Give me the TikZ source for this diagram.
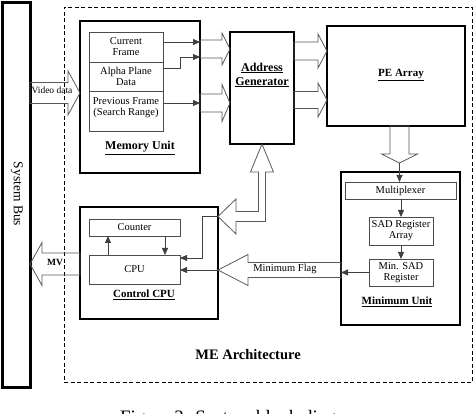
\documentclass[tikz,border=0pt]{standalone}
\usepackage{fontspec}
\setmainfont{Liberation Serif}
\usetikzlibrary{arrows.meta,calc}

% hollow block arrow: from, to, half shaft, half head, head length
\newcommand{\blockarrow}[5]{%
  \draw[hollow] let \p1=(#1), \p2=(#2), \n1={atan2(\y2-\y1,\x2-\x1)}, \n2={veclen(\x2-\x1,\y2-\y1)} in
    [shift={(\p1)},rotate=\n1] (0pt,#3pt) -- (\n2-#5pt,#3pt) -- (\n2-#5pt,#4pt) -- (\n2+0pt,0pt)
    -- (\n2-#5pt,-#4pt) -- (\n2-#5pt,-#3pt) -- (0pt,-#3pt) -- cycle;}

\begin{document}
\begin{tikzpicture}
  [x=1pt,y=-1pt,every node/.style={inner sep=0pt,outer sep=0pt,align=center,font=\fontsize{10.5}{11}\selectfont}]
  \tikzstyle{unit} = [draw,line width=2.8pt]
  \tikzstyle{cell} = [draw=black!70,line width=0.8pt]
  \tikzstyle{title} = [font=\fontsize{12}{14}\selectfont\bfseries]
  \tikzstyle{sig} = [draw=black!75,line width=0.8pt,-{Triangle[length=7pt,width=6pt]}]
  \tikzstyle{hollow} = [draw=black!65,line width=0.8pt,line join=miter]
  \useasboundingbox (0,0) rectangle (474,414);

  % system bus and ME frame
  \node[draw,line width=3pt,minimum width=27.5pt,minimum height=384pt] (bus) at (16.25,195) {};
  \node[rotate=-90,font=\fontsize{13.5}{15}\selectfont] (buslbl) at (17,194) {System Bus};
  \node[draw,line width=0.9pt,dash pattern=on 4pt off 2.5pt,minimum width=408pt,minimum height=375pt] (me) at (268,194.5) {};
  \node[font=\fontsize{14.5}{16}\selectfont\bfseries] (melbl) at (248,355) {ME Architecture};

  % memory unit
  \node[unit,minimum width=120pt,minimum height=152pt] (mem) at (140,97) {};
  \node[cell,minimum width=74pt,minimum height=30pt] (cur) at (126,47) {Current\\Frame};
  \node[cell,minimum width=74pt,minimum height=29pt] (alpha) at (126,76.5) {Alpha Plane\\Data};
  \node[cell,minimum width=74pt,minimum height=40pt] (prev) at (126,111) {};
  \node (prevlbl) at (126,108) {Previous Frame\\(Search Range)};
  \node[title] (memlbl) at (140,148) {\underline{Memory Unit}};

  % address generator and PE array
  \node[unit,minimum width=64pt,minimum height=112pt] (ag) at (262,88) {};
  \node[title] (aglbl) at (262,75) {\underline{Address}\\\underline{Generator}};
  \node[unit,minimum width=138pt,minimum height=100pt] (pe) at (396,76) {};
  \node[title,font=\fontsize{11}{13}\selectfont\bfseries] (pelbl) at (401,75) {\underline{PE Array}};

  % minimum unit
  \node[unit,minimum width=119pt,minimum height=153pt] (minu) at (400.5,248.5) {};
  \node[cell,minimum width=111pt,minimum height=17pt] (mux) at (400.5,190.5) {Multiplexer};
  \node[cell,minimum width=64pt,minimum height=28pt] (sad) at (401,231) {SAD Register\\Array};
  \node[cell,minimum width=64pt,minimum height=27pt] (minsad) at (401,272.5) {Min. SAD\\Register};
  \node[title,font=\fontsize{11}{13}\selectfont\bfseries] (minlbl) at (397,302) {\underline{Minimum Unit}};

  % control cpu
  \node[unit,minimum width=138pt,minimum height=112pt] (ctrl) at (149,263) {};
  \node[cell,minimum width=91pt,minimum height=17pt] (counter) at (134.5,227.5) {Counter};
  \node[cell,minimum width=91pt,minimum height=29pt] (cpu) at (134.5,269.5) {CPU};
  \node[title,font=\fontsize{11}{13}\selectfont\bfseries] (ctrllbl) at (144,295) {\underline{Control CPU}};

  \coordinate (ctrltip) at (ctrl.east |- 0,216.5);
  \coordinate (flagtip) at (ctrl.east |- 0,270);
  \coordinate (muxin) at (399.5,163);

  % block arrows
  \blockarrow{bus.east |- 0,93}{mem.west |- 0,93}{10.5}{22}{12}
  \node[font=\fontsize{9.5}{11}\selectfont] (vidlbl) at (52,90) {Video data};
  \blockarrow{ctrl.west |- 0,264}{bus.east |- 0,264}{11}{21.5}{12}
  \node[font=\fontsize{9.5}{11}\selectfont\bfseries] (mvlbl) at (55,262) {MV};
  \blockarrow{mem.east |- 0,49}{ag.west |- 0,49}{9}{16}{8}
  \blockarrow{mem.east |- 0,103}{ag.west |- 0,103}{9}{18.5}{8}
  \blockarrow{ag.east |- 0,51}{pe.west |- 0,51}{9}{17}{9}
  \blockarrow{ag.east |- 0,100}{pe.west |- 0,100}{8.5}{17}{9}
  \blockarrow{pe.south -| muxin}{muxin}{9.5}{18}{9}
  \blockarrow{minu.west |- flagtip}{flagtip}{7.5}{15.5}{30}
  \node (flaglbl) at (285,269) {Minimum Flag};
  \draw[hollow] (ag.south) -- ++(11.5,28) -- ++(-8,0) |- ($(ctrltip)+(18,5)$) -- ++(0,12.5) -- (ctrltip)
    -- ++(18,-17.5) -- ++(0,12.5) -| ($(ag.south)+(-3.5,28)$) -- ++(-8,0) -- cycle;

  % signal lines
  \draw[sig] ([yshift=5pt]cur.east) -- ([yshift=5pt]cur.east -| mem.east);
  \draw[sig] ([yshift=8.5pt]alpha.east) -- ++(17,0) |- (mem.east |- 0,57);
  \draw[sig] ([yshift=8pt]prev.east) -- ([yshift=8pt]prev.east -| mem.east);
  \draw[sig] (counter.south -| 165,0) -- (cpu.north -| 165,0);
  \draw[sig] (cpu.north -| 108,0) -- (counter.south -| 108,0);
  \draw[sig] (ctrltip) -- ++(-16,0) |- (cpu.east |- 0,258);
  \draw[sig] (flagtip) -- (cpu.east |- flagtip);
  \draw[sig] (muxin) -- (muxin |- mux.north);
  \draw[sig] (sad.north |- mux.south) -- (sad.north);
  \draw[sig] (sad.south) -- (minsad.north);
  \draw[sig] (minsad.west) -- (minsad.west -| minu.west);

  \node[anchor=base west,font=\fontsize{19}{21}\selectfont] (caption) at (120,423.5) {Figure 3: System block diagram};
\end{tikzpicture}
\end{document}
